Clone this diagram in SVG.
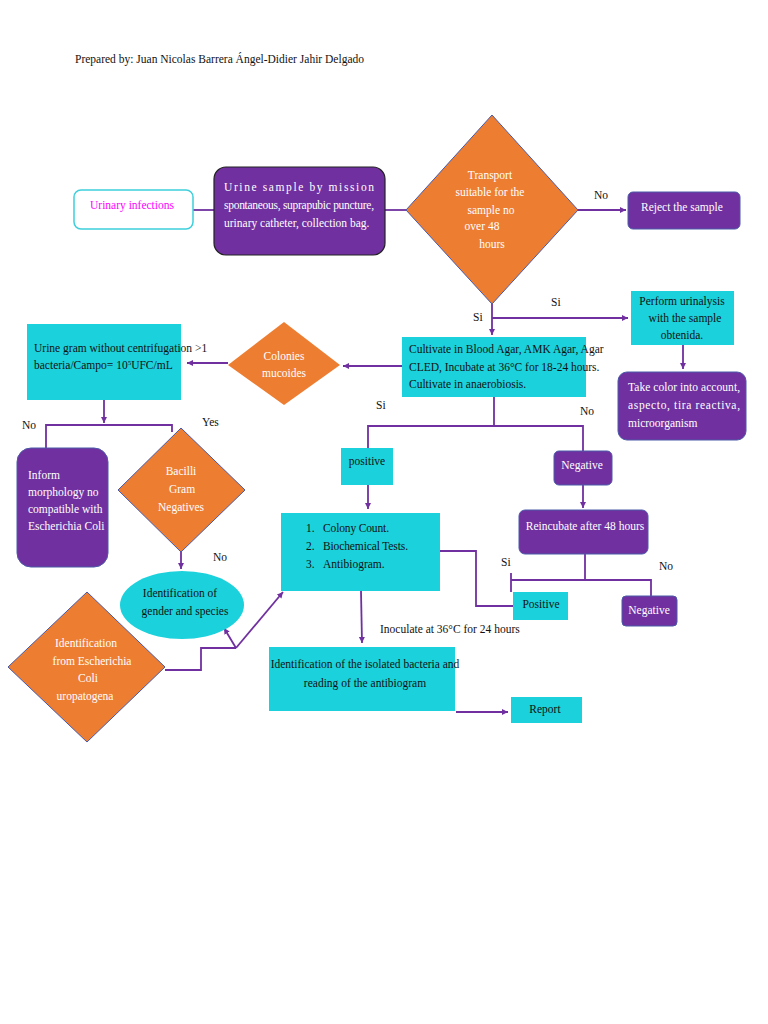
<svg xmlns="http://www.w3.org/2000/svg" width="768" height="1024" viewBox="0 0 768 1024">
<defs>
<marker id="ah" markerWidth="8" markerHeight="8" refX="6" refY="3" orient="auto" markerUnits="userSpaceOnUse"><path d="M0,0 L6,3 L0,6 z" fill="#7030a0"/></marker>
<style>
text{font-family:"Liberation Serif",serif;font-size:11.5px}
.w{fill:#fff}.d{fill:#111}
.cy{fill:#1bd1dc}
.pu{fill:#7030a0;stroke:#4a5aa8;stroke-width:1}
.or{fill:#ed7d31;stroke:#4a5aa8;stroke-width:1}
.c line,.c path,.c polyline{stroke:#7030a0;stroke-width:1.8;fill:none}
.m{text-anchor:middle}
</style>
</defs>
<rect width="768" height="1024" fill="#fff"/>
<text x="75" y="63" class="d" font-size="11">Prepared by: Juan Nicolas Barrera Ángel-Didier Jahir Delgado</text>

<g class="c">
<line x1="193" y1="210" x2="214" y2="210"/>
<line x1="385" y1="210" x2="407" y2="210"/>
<line x1="578" y1="210" x2="626" y2="210" marker-end="url(#ah)"/>
<line x1="492" y1="304" x2="492" y2="335" marker-end="url(#ah)"/>
<line x1="492" y1="318" x2="628" y2="318" marker-end="url(#ah)"/>
<line x1="683" y1="345" x2="683" y2="369" marker-end="url(#ah)"/>
<line x1="402" y1="366" x2="343" y2="366" marker-end="url(#ah)"/>
<line x1="228" y1="363" x2="187" y2="363" marker-end="url(#ah)"/>
<line x1="104" y1="400" x2="104" y2="423" marker-end="url(#ah)"/>
<polyline points="46,448 46,425 172,425 172,432"/>
<line x1="181" y1="552" x2="181" y2="569" marker-end="url(#ah)"/>
<polyline points="165,670 201,670 201,648 236,648"/>
<line x1="236" y1="648" x2="224" y2="628" marker-end="url(#ah)"/>
<line x1="236" y1="648" x2="283" y2="592" marker-end="url(#ah)"/>
<line x1="494" y1="397" x2="494" y2="426"/>
<polyline points="368,448 368,426 583,426 583,451"/>
<line x1="368" y1="485" x2="368" y2="509" marker-end="url(#ah)"/>
<line x1="583" y1="485" x2="583" y2="508" marker-end="url(#ah)"/>
<polyline points="440,551 476,551 476,606 513,606"/>
<line x1="585" y1="554" x2="585" y2="580"/>
<polyline points="511,580 651,580 651,596"/>
<line x1="511" y1="573" x2="511" y2="592"/>
<line x1="361" y1="591" x2="362" y2="643" marker-end="url(#ah)"/>
<line x1="456" y1="712" x2="508" y2="712" marker-end="url(#ah)"/>
</g>

<g id="n-urinary"><rect x="74" y="190" width="119" height="39" rx="7" fill="#fff" stroke="#3dd0dc" stroke-width="1.5"/><text x="90" y="209" fill="#ff00ff">Urinary infections</text></g>
<g id="n-urine"><rect x="214" y="167" width="171" height="88" rx="12" fill="#7030a0" stroke="#222" stroke-width="1.2"/>
<text class="w" x="224" y="191" textLength="150" lengthAdjust="spacing">Urine sample by mission</text>
<text class="w" x="224" y="209" textLength="150" lengthAdjust="spacing">spontaneous, suprapubic puncture,</text>
<text class="w" x="224" y="227">urinary catheter, collection bag.</text></g>
<g id="n-transport"><polygon class="or" points="492,115 578,210 492,304 406,210"/>
<text class="w m" x="490" y="179">Transport</text><text class="w m" x="490" y="196">suitable for the</text><text class="w m" x="491" y="214">sample no</text><text class="w m" x="482" y="230">over 48</text><text class="w m" x="492" y="248">hours</text></g>
<text class="d" x="594" y="199">No</text>
<g id="n-reject"><rect class="pu" x="628" y="192" width="112" height="37" rx="5"/><text class="w" x="641" y="211">Reject the sample</text></g>
<text class="d" x="473" y="321">Si</text><text class="d" x="551" y="306">Si</text>
<g id="n-perform"><rect class="cy" x="631" y="291" width="103" height="54"/><text class="d m" x="682" y="305">Perform urinalysis</text><text class="d m" x="685" y="322">with the sample</text><text class="d m" x="682" y="339">obtenida.</text></g>
<g id="n-take"><rect class="pu" x="618" y="372" width="128" height="68" rx="9"/>
<text class="w" x="628" y="391" textLength="112" lengthAdjust="spacing">Take color into account,</text>
<text class="w" x="628" y="409" textLength="112" lengthAdjust="spacing">aspecto, tira reactiva,</text>
<text class="w" x="628" y="427">microorganism</text></g>
<g id="n-cultivate"><rect class="cy" x="402" y="337" width="184" height="60"/>
<text class="d" x="409" y="353" font-size="12">Cultivate in Blood Agar, AMK Agar, Agar</text>
<text class="d" x="409" y="371" font-size="12">CLED, Incubate at 36°C for 18-24 hours.</text>
<text class="d" x="409" y="388" font-size="12">Cultivate in anaerobiosis.</text></g>
<g id="n-colonies"><polygon points="284,322 340,365 284,405 228,365" fill="#ed7d31"/><text class="w m" x="284" y="360">Colonies</text><text class="w m" x="284" y="377">mucoides</text></g>
<g id="n-gram"><rect class="cy" x="27" y="324" width="154" height="76"/><text class="d" x="34" y="352">Urine gram without centrifugation &gt;1</text><text class="d" x="34" y="369">bacteria/Campo= 10<tspan font-size="7" dy="-4">5</tspan><tspan dy="4">UFC/mL</tspan></text></g>
<text class="d" x="22" y="429">No</text><text class="d" x="202" y="426">Yes</text>
<g id="n-inform"><rect class="pu" x="17" y="448" width="91" height="119" rx="14"/><text class="w" x="28" y="479">Inform</text><text class="w" x="28" y="496">morphology no</text><text class="w" x="28" y="513">compatible with</text><text class="w" x="28" y="530">Escherichia Coli</text></g>
<g id="n-bacilli"><polygon class="or" points="181,428 245,490 181,552 118,490"/><text class="w m" x="181" y="475">Bacilli</text><text class="w m" x="182" y="493">Gram</text><text class="w m" x="181" y="511">Negatives</text></g>
<text class="d" x="213" y="561">No</text>
<g id="n-gender"><ellipse class="cy" cx="182" cy="605" rx="62" ry="34"/><text class="d m" x="180" y="597">Identification of</text><text class="d m" x="185" y="615">gender and species</text></g>
<g id="n-ecoli"><polygon class="or" points="87,592 165,667 87,742 8,667"/><text class="w m" x="86" y="647">Identification</text><text class="w m" x="92" y="665">from Escherichia</text><text class="w m" x="88" y="682">Coli</text><text class="w m" x="85" y="700">uropatogena</text></g>
<text class="d" x="376" y="409">Si</text><text class="d" x="580" y="415">No</text>
<g id="n-positive"><rect class="cy" x="341" y="448" width="52" height="37"/><text class="d m" x="367" y="465">positive</text></g>
<g id="n-negative"><rect class="pu" x="554" y="451" width="58" height="34" rx="5"/><text class="w m" x="582" y="469">Negative</text></g>
<g id="n-colony"><rect class="cy" x="281" y="513" width="159" height="78"/>
<text class="d" x="306" y="532">1.</text><text class="d" x="323" y="532" textLength="66" lengthAdjust="spacing">Colony Count.</text>
<text class="d" x="306" y="550">2.</text><text class="d" x="323" y="550" textLength="85" lengthAdjust="spacing">Biochemical Tests.</text>
<text class="d" x="306" y="568">3.</text><text class="d" x="323" y="568">Antibiogram.</text></g>
<g id="n-reincubate"><rect class="pu" x="519" y="510" width="129" height="44" rx="6"/><text class="w m" x="585" y="530">Reincubate after 48 hours</text></g>
<text class="d" x="501" y="566">Si</text><text class="d" x="659" y="570">No</text>
<g id="n-positive2"><rect class="cy" x="513" y="592" width="55" height="28"/><text class="d m" x="541" y="608">Positive</text></g>
<g id="n-negative2"><rect class="pu" x="622" y="596" width="55" height="30" rx="4"/><text class="w m" x="649" y="614">Negative</text></g>
<text class="d" x="380" y="633" font-size="10">Inoculate at 36°C for 24 hours</text>
<g id="n-isolated"><rect class="cy" x="269" y="647" width="186" height="64"/><text class="d m" x="365" y="668">Identification of the isolated bacteria and</text><text class="d m" x="365" y="687">reading of the antibiogram</text></g>
<g id="n-report"><rect class="cy" x="511" y="697" width="71" height="26"/><text class="d m" x="545" y="713">Report</text></g>
</svg>
